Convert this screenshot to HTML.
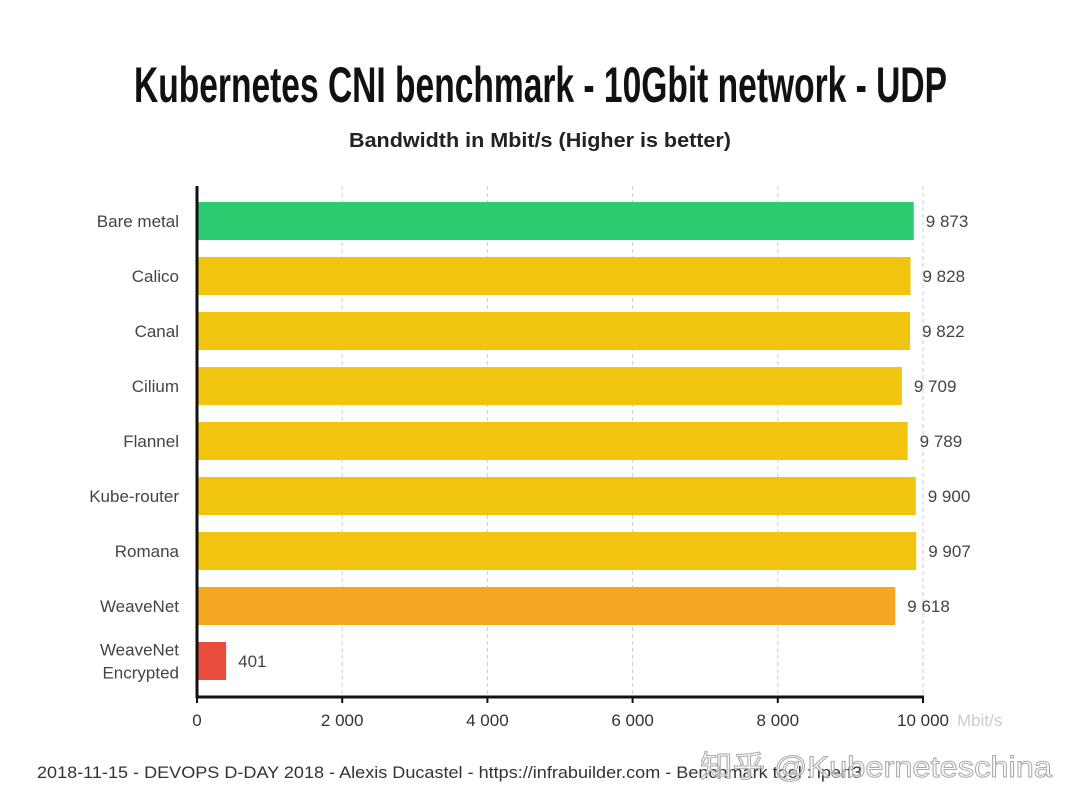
<!DOCTYPE html>
<html><head><meta charset="utf-8"><style>
body{margin:0;background:#fff;width:1080px;height:810px;overflow:hidden;font-family:"Liberation Sans",sans-serif}
svg{display:block}
</style></head><body>
<svg id="c" width="1080" height="810">
<text x="134" y="102" textLength="813" lengthAdjust="spacingAndGlyphs" font-family="Liberation Sans Narrow, Liberation Sans, sans-serif" font-weight="bold" font-size="50" fill="#111">Kubernetes CNI benchmark - 10Gbit network - UDP</text>
<text x="349" y="147" textLength="382" lengthAdjust="spacingAndGlyphs" font-weight="bold" font-size="20" fill="#222">Bandwidth in Mbit/s (Higher is better)</text>
<g id="grid"></g><g id="bars"></g>
<text x="37" y="778" textLength="825" lengthAdjust="spacingAndGlyphs" font-size="17" fill="#333">2018-11-15 - DEVOPS D-DAY 2018 - Alexis Ducastel - https://infrabuilder.com - Benchmark tool : iperf3</text>
<text x="700" y="777" textLength="352" lengthAdjust="spacingAndGlyphs" font-size="30" fill="rgba(255,255,255,0.6)" stroke="#aaa" stroke-width="1" font-family="Liberation Sans, Noto Sans CJK SC, sans-serif">知乎 @Kuberneteschina</text>
</svg>
<script>
const categories=["Bare metal","Calico","Canal","Cilium","Flannel","Kube-router","Romana","WeaveNet","WeaveNet|Encrypted"];
const values=[9873,9828,9822,9709,9789,9900,9907,9618,401];
const valueLabels=["9 873","9 828","9 822","9 709","9 789","9 900","9 907","9 618","401"];
const colors=["#2ecc71","#f1c40f","#f1c40f","#f1c40f","#f1c40f","#f1c40f","#f1c40f","#f5a623","#e74c3c"];
const ticks=[0,2000,4000,6000,8000,10000];
const tickLabels=["0","2 000","4 000","6 000","8 000","10 000"];
const NS="http://www.w3.org/2000/svg";
const x0=197,x1=923,vmax=10000;
const xs=v=>x0+(x1-x0)*v/vmax;
const yc=i=>221+55*i;
function mk(t,a,p){const e=document.createElementNS(NS,t);for(const k in a)e.setAttribute(k,a[k]);p.appendChild(e);return e;}
const g=document.getElementById('grid'),b=document.getElementById('bars');
ticks.forEach((t,i)=>{
 if(i>0){const l=mk('line',{x1:xs(t),x2:xs(t),y1:186,y2:697,stroke:'#ccc','stroke-dasharray':'4 3'},g);
 
 }
 const tk=mk('line',{x1:xs(t),x2:xs(t),y1:697,y2:703,stroke:'#111','stroke-width':2},g);
 
 
 const tx=mk('text',{x:xs(t),y:726,'text-anchor':'middle','font-size':17,fill:'#333'},g);
 tx.textContent=tickLabels[i];
 
 
});
const u=mk('text',{x:957,y:726,'font-size':17,fill:'#ccc'},g);u.textContent='Mbit/s';


categories.forEach((c,i)=>{
 const r=mk('rect',{x:x0,y:yc(i)-19,width:xs(values[i])-x0,height:38,fill:colors[i]},b);
 
 
 const v=mk('text',{x:xs(values[i])+12,y:yc(i)+6,'font-size':17,fill:'#444'},b);
 v.textContent=valueLabels[i];
 
 
 const parts=c.split('|');
 parts.forEach((p,j)=>{
  const t=mk('text',{x:179,y:yc(i)+6+(j-(parts.length-1)/2)*23,'text-anchor':'end','font-size':17,fill:'#444'},b);
  t.textContent=p;
  
  
 });
});
const ya=mk('line',{x1:x0,x2:x0,y1:186,y2:698,stroke:'#111','stroke-width':3},b);


const xa=mk('line',{x1:x0-1,x2:x1+1,y1:697,y2:697,stroke:'#111','stroke-width':3},b);


</script>
</body></html>
